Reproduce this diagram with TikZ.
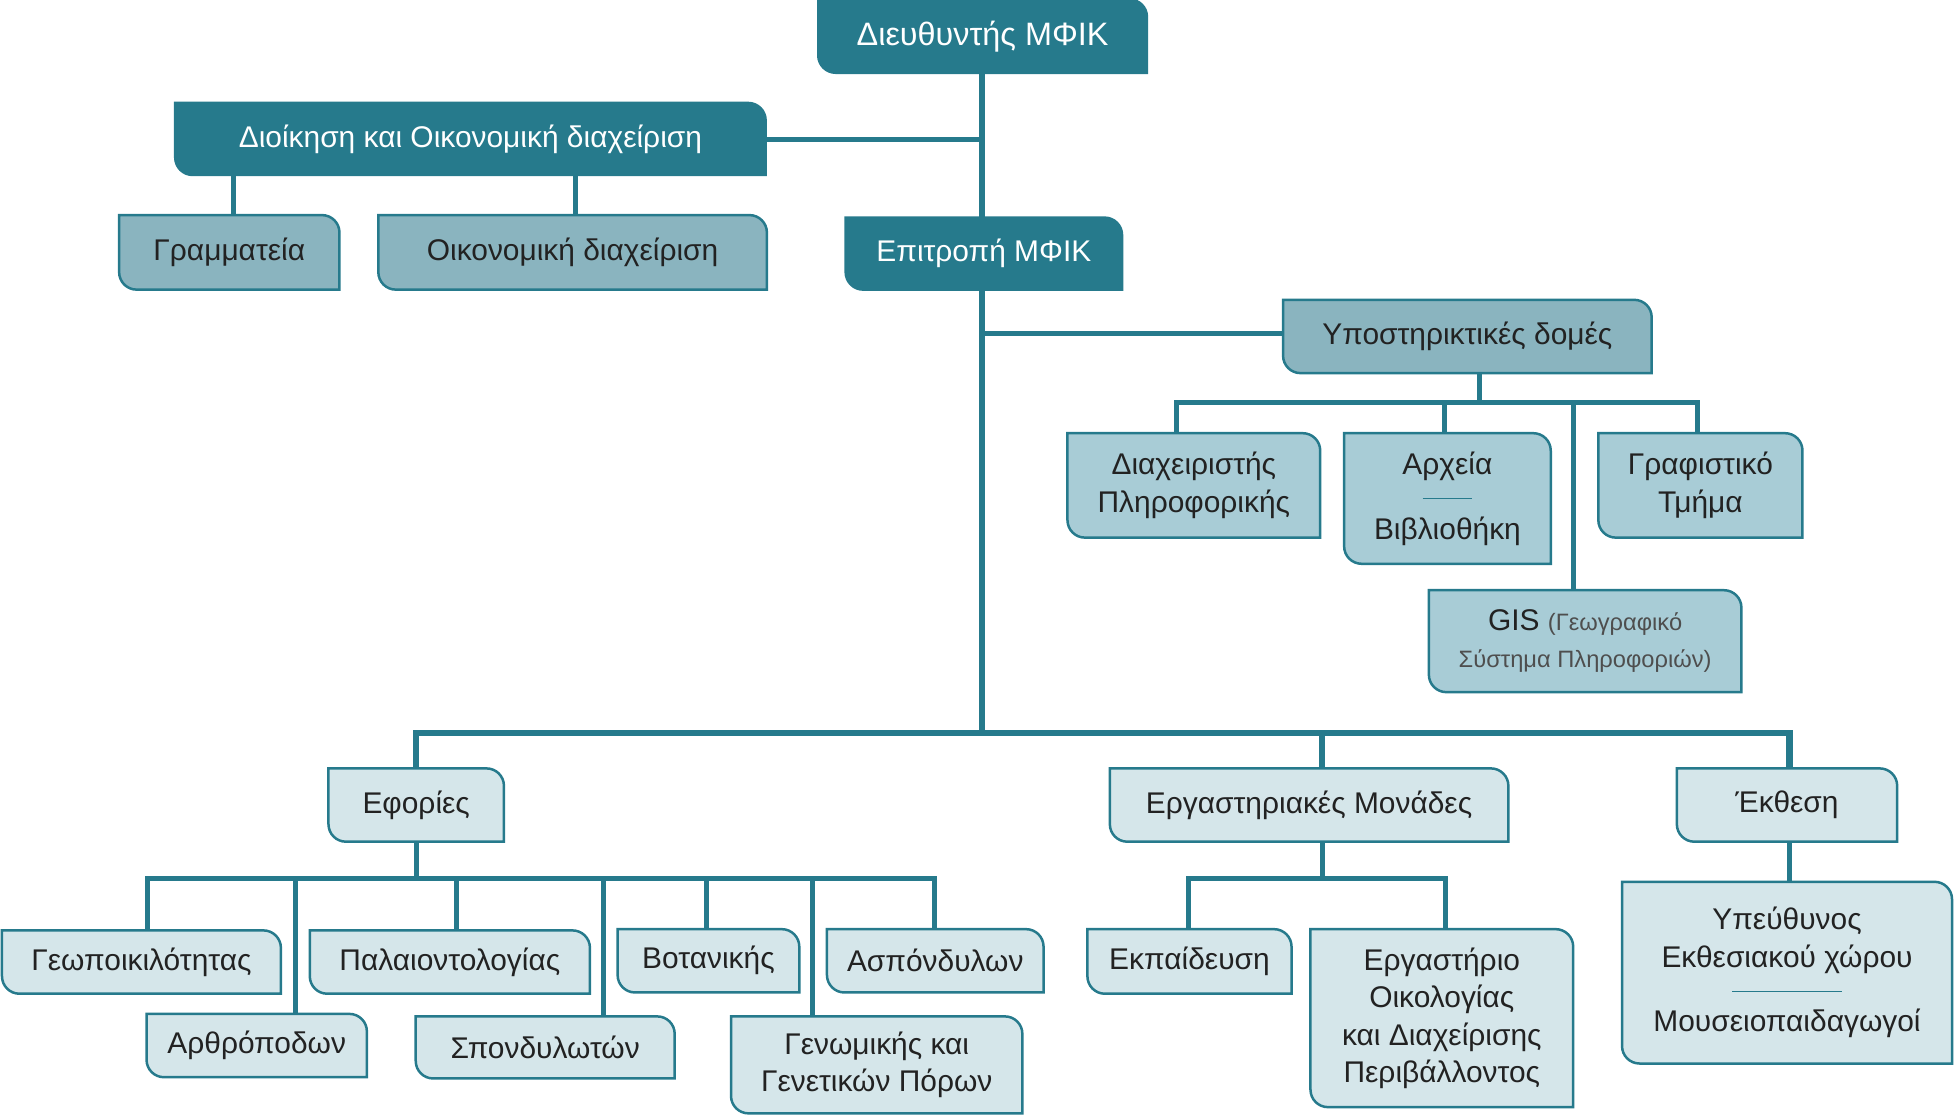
\documentclass[tikz,border=0pt]{standalone}
\usepackage{fontspec}
\setmainfont{Liberation Sans}
\usetikzlibrary{backgrounds,calc}
\definecolor{dk}{HTML}{267A8C}
\definecolor{md}{HTML}{8AB4BF}
\definecolor{lt}{HTML}{A8CCD6}
\definecolor{ll}{HTML}{D5E6EA}
\definecolor{tx}{HTML}{222222}
\tikzset{
  conn/.style={draw=dk,line width=2pt},
  trunk/.style={draw=dk,line width=2.5pt},
  lbl/.style={inner sep=0pt,align=center,font=\fontsize{12}{15}\selectfont},
}
\newcommand\B[8]{%
  \node[lbl,text=#7,minimum width={(#4-#2)*0.5pt},minimum height={(#5-#3)*0.5pt}] (#1) at ({(#2+#4)/2},{(#3+#5)/2}) {#8};
  \begin{pgfonlayer}{background}
  \draw[dk,line width=1pt,fill=#6] (#1.north west) -- ([xshift=-7pt]#1.north east) arc[start angle=90,end angle=0,radius=7pt] -- (#1.south east) -- ([xshift=7pt]#1.south west) arc[start angle=270,end angle=180,radius=7pt] -- cycle;
  \end{pgfonlayer}}
\begin{document}
\begin{tikzpicture}[x=0.5pt,y=-0.5pt]
\useasboundingbox (0,0) rectangle (1568,896);
\B{dir}{657}{0}{920}{58}{dk}{white}{\fontsize{13}{15}\selectfont Διευθυντής ΜΦΙΚ}
\B{dio}{141}{83}{614}{140}{dk}{white}{Διοίκηση και Οικονομική διαχείριση}
\B{gra}{96}{173}{272}{232}{md}{tx}{Γραμματεία}
\B{oik}{304}{173}{615}{232}{md}{tx}{Οικονομική διαχείριση}
\B{epi}{679}{175}{900}{232}{dk}{white}{Επιτροπή ΜΦΙΚ}
\B{ypo}{1030}{241}{1325}{299}{md}{tx}{Υποστηρικτικές δομές}
\B{dia}{857}{348}{1059}{431}{lt}{tx}{Διαχειριστής\\Πληροφορικής}
\B{arx}{1079}{348}{1244}{452}{lt}{tx}{Αρχεία\\[-2pt]{\color{dk}\rule[3pt]{20pt}{0.6pt}}\\[-2pt]Βιβλιοθήκη}
\B{graf}{1283}{348}{1446}{431}{lt}{tx}{Γραφιστικό\\Τμήμα}
\B{gis}{1147}{474}{1397}{555}{lt}{tx}{GIS {\fontsize{9.5}{13}\selectfont\color{tx!80}(Γεωγραφικό}\\{\fontsize{9.5}{13}\selectfont\color{tx!80}Σύστημα Πληροφοριών)}}
\B{efo}{264}{617}{404}{675}{ll}{tx}{Εφορίες}
\B{erg}{891}{617}{1210}{675}{ll}{tx}{Εργαστηριακές Μονάδες}
\B{ekt}{1346}{617}{1522}{675}{ll}{tx}{Έκθεση}
\B{geo}{2}{747}{225}{797}{ll}{tx}{Γεωποικιλότητας}
\B{art}{118}{814}{294}{864}{ll}{tx}{Αρθρόποδων}
\B{pal}{249}{747}{473}{797}{ll}{tx}{Παλαιοντολογίας}
\B{spo}{334}{816}{541}{865}{ll}{tx}{Σπονδυλωτών}
\B{bot}{496}{746}{641}{796}{ll}{tx}{Βοτανικής}
\B{gen}{587}{816}{820}{893}{ll}{tx}{Γενωμικής και\\Γενετικών Πόρων}
\B{asp}{664}{746}{837}{796}{ll}{tx}{Ασπόνδυλων}
\B{ekp}{873}{746}{1036}{797}{ll}{tx}{Εκπαίδευση}
\B{eoi}{1052}{746}{1262}{888}{ll}{tx}{Εργαστήριο\\Οικολογίας\\και Διαχείρισης\\Περιβάλλοντος}
\B{ype}{1302}{708}{1566}{853}{ll}{tx}{Υπεύθυνος\\Εκθεσιακού χώρου\\[-2pt]{\color{dk}\rule[3pt]{44pt}{0.6pt}}\\[-2pt]Μουσειοπαιδαγωγοί}
\begin{pgfonlayer}{background}
\coordinate (t1) at (788,112);
\coordinate (t2) at (788,268);
\coordinate (t3) at (788,588);
\draw[trunk] (dir.south -| t1) -- (epi.north -| t1);
\draw[trunk] (epi.south -| t1) -- (t3);
\draw[conn] (dio.east |- t1) -- (t1);
\draw[conn] (t2) -- (ypo.west |- t2);
\draw[conn] (gra.north -| 187,0) -- (dio.south -| 187,0);
\draw[conn] (oik.north -| 462,0) -- (dio.south -| 462,0);
\coordinate (s) at (1187,323);
\draw[conn] (ypo.south -| s) -- (s);
\draw[conn] (dia.north -| 944,0) -- (944,323) -- (1362,323) -- (graf.north -| 1362,0);
\draw[conn] (1159,323) -- (arx.north -| 1159,0);
\draw[conn] (1263,323) -- (gis.north -| 1263,0);
\draw[trunk] (efo.north -| 334,0) -- (334,588) -- (1436,588) -- (ekt.north -| 1436,0);
\draw[trunk] (1061,588) -- (erg.north -| 1061,0);
\draw[conn] (efo.south -| 334,0) -- (334,705);
\draw[conn] (geo.north -| 118,0) -- (118,705) -- (750,705) -- (asp.north -| 750,0);
\draw[conn] (237,705) -- (art.north -| 237,0);
\draw[conn] (366,705) -- (pal.north -| 366,0);
\draw[conn] (484,705) -- (spo.north -| 484,0);
\draw[conn] (567,705) -- (bot.north -| 567,0);
\draw[conn] (652,705) -- (gen.north -| 652,0);
\draw[conn] (erg.south -| 1061,0) -- (1061,705);
\draw[conn] (ekp.north -| 954,0) -- (954,705) -- (1160,705) -- (eoi.north -| 1160,0);
\draw[conn] (ekt.south -| 1436,0) -- (ype.north -| 1436,0);
\end{pgfonlayer}
\end{tikzpicture}
\end{document}
